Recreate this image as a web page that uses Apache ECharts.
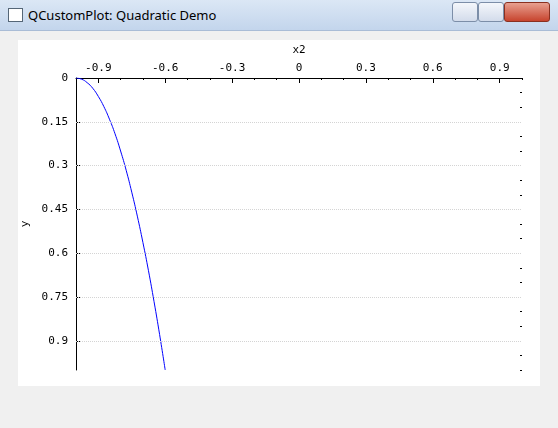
<!DOCTYPE html>
<html><head><meta charset="utf-8">
<script src="https://cdn.jsdelivr.net/npm/echarts@6/dist/echarts.min.js"></script>
<style>
body{margin:0;width:558px;height:428px;overflow:hidden;background:#f0f0f0;font-family:"Noto Sans",sans-serif}
#bar{position:absolute;left:0;top:0;width:558px;height:30px;background:linear-gradient(#dbe7f5,#c3d5ec);border-bottom:1px solid #a9bcd6}
#bar span{position:absolute;left:28px;top:6px;font-size:13px;color:#000}
#icon{position:absolute;left:8px;top:8px;width:13px;height:12px;border:1px solid #567;background:#fff}
.btn{position:absolute;top:2px;height:18px;border:1px solid #7c8ea8;border-radius:3px;background:linear-gradient(#f4f7fb,#d3dceb)}
#close{background:linear-gradient(#e8a090,#c7442e);border-color:#8a3020}
#win{position:absolute;left:18px;top:40px;width:522px;height:346px;background:#fff}
#chart{position:absolute;left:0;top:0;width:558px;height:428px}
</style></head><body>
<div id="bar"><div id="icon"></div><span>QCustomPlot: Quadratic Demo</span>
<div class="btn" style="left:452px;width:24px"></div><div class="btn" style="left:478px;width:24px"></div><div class="btn" id="close" style="left:504px;width:44px"></div></div>
<div id="win"></div>
<div id="chart"></div>
<script>
var curveX = [-1,-0.975,-0.95,-0.925,-0.9,-0.875,-0.85,-0.825,-0.8,-0.775,-0.75,-0.725,-0.7,-0.675,-0.65,-0.625,-0.6];
var curveY = [0,0.004,0.016,0.035,0.063,0.098,0.141,0.191,0.25,0.316,0.391,0.473,0.563,0.66,0.766,0.879,1];
var xMajor = [-0.9,-0.6,-0.3,0,0.3,0.6,0.9];
var xMinor = [-1,-0.8,-0.7,-0.5,-0.4,-0.2,-0.1,0.1,0.2,0.4,0.5,0.7,0.8,1];
var yMajor = [0,0.15,0.3,0.45,0.6,0.75,0.9];
var yMinor = [0.05,0.1,0.2,0.25,0.35,0.4,0.5,0.55,0.65,0.7,0.8,0.85,0.95,1];

var chart = echarts.init(document.getElementById('chart'));
var font = {fontFamily:'DejaVu Sans Mono',fontSize:11,color:'#000'};
function xAx(vals, len, labels, name){
    return {type:'value',position:'top',min:-1,max:1,
        name:name||'',nameLocation:'middle',nameGap:22,nameTextStyle:font,
        axisLine:{show:!!labels,onZero:false,lineStyle:{color:'#000'}},
        axisTick:{inside:true,length:len,customValues:vals,lineStyle:{color:'#000'}},
        axisLabel:{show:!!labels,customValues:vals,margin:4,
            formatter:function(v){return String(Math.round(v*10)/10);},
            fontFamily:font.fontFamily,fontSize:11,color:'#000'},
        splitLine:{show:false}};
}
function yAx(vals, len, labels, name){
    return {type:'value',inverse:true,min:0,max:1,
        name:name||'',nameLocation:'middle',nameGap:36,nameTextStyle:font,
        axisLine:{show:!!labels,onZero:false,lineStyle:{color:'#000'}},
        axisTick:{inside:true,length:len,customValues:vals,lineStyle:{color:'#000'}},
        axisLabel:{show:!!labels,customValues:vals,margin:8,
            formatter:function(v){return String(Math.round(v*100)/100);},
            fontFamily:font.fontFamily,fontSize:11,color:'#000'},
        splitLine:{show:false}};
}
var pts = curveX.map(function(x,i){return [x,curveY[i]];});
chart.setOption({
    animation:false,
    grid:{left:76,top:78,right:36,bottom:58},
    xAxis:[xAx(xMajor,5,true,'x2'),xAx(xMinor,2,false)],
    yAxis:[yAx(yMajor,5,true,'y'),yAx(yMinor,2,false)],
    series:[{type:'line',data:pts,showSymbol:false,smooth:true,
        lineStyle:{color:'#0000ff',width:1},
        markLine:{silent:true,symbol:'none',label:{show:false},
            lineStyle:{color:'#d4d4d4',type:'dotted',width:1},
            data:yMajor.slice(1).map(function(v){return {yAxis:v};})}}]
});
</script></body></html>
